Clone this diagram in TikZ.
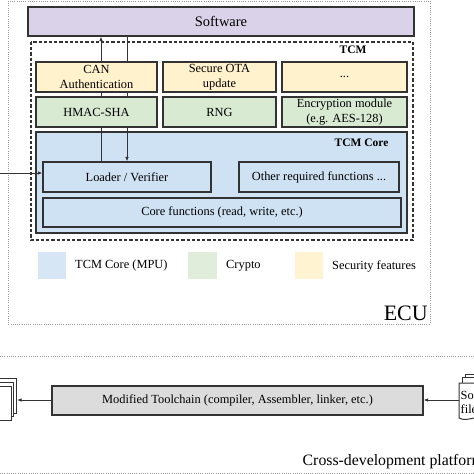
\documentclass[tikz,border=0pt]{standalone}
\usepackage{fontspec}
\setmainfont{Liberation Serif}
\usetikzlibrary{arrows.meta}
\definecolor{cblue}{HTML}{CFE2F3}
\definecolor{cgreen}{HTML}{D9EAD3}
\definecolor{cyellow}{HTML}{FFF2CC}
\definecolor{cpurple}{HTML}{D9D2E9}
\definecolor{cgray}{HTML}{DCDCDC}
\definecolor{edge}{HTML}{333333}
\begin{document}
\begin{tikzpicture}[x=1pt,y=-1pt,
  box/.style={draw=edge, line width=1.1pt, inner sep=1pt, align=center,
    font=\fontsize{12.4}{14.5}\selectfont, text=black},
  lbl/.style={font=\fontsize{12.4}{14.5}\selectfont, inner sep=0pt},
  bold/.style={font=\fontsize{11.5}{13}\selectfont\bfseries, inner sep=0pt},
  conn/.style={draw=edge, line width=1pt, -{Latex[length=4.5pt,width=3.5pt]}},
  plain/.style={draw=edge, line width=1pt},
  dotb/.style={draw=gray!80, line width=0.9pt, dash pattern=on 0.9pt off 1.3pt},
  page/.style={draw=edge, line width=1pt, fill=white}]
\useasboundingbox (0,0) rectangle (474,474);
% ECU frame
\draw[dotb] (8,1) rectangle (430,324);
\node[font=\fontsize{22}{24}\selectfont, anchor=east, inner sep=0pt] (ecu) at (428,313) {ECU};
% Software
\node[box, fill=cpurple, minimum width=386pt, minimum height=29pt, font=\fontsize{14.5}{16}\selectfont] (sw) at (221,21.5) {Software};
% TCM
\draw[draw=edge, line width=1.2pt, dash pattern=on 3.2pt off 2pt] (31,42) rectangle (413,240);
\node[bold] (tcm) at (353,50) {TCM};
% Core
\node[box, fill=cblue, minimum width=371pt, minimum height=101pt] (core) at (221.5,182.5) {};
\node[bold] (tcmcore) at (361.5,143) {TCM Core};
\node[box, fill=cblue, minimum width=168pt, minimum height=30pt] (loader) at (127,177) {Loader / Verifier};
\node[box, fill=cblue, minimum width=160pt, minimum height=30pt] (other) at (319,177) {Other required functions ...};
\node[box, fill=cblue, minimum width=358pt, minimum height=29pt] (corefn) at (222,212.5) {Core functions (read, write, etc.)};
% arrows between software and loader
\draw[conn] (loader.north -| 101,0) -- (sw.south -| 101,0);
\draw[conn] (sw.south -| 127,0) -- (loader.north -| 127,0);
% security features
\node[box, fill=cyellow, minimum width=121pt, minimum height=30pt] (can) at (96.5,77) {CAN\\Authentication};
\node[box, fill=cyellow, minimum width=113pt, minimum height=30pt] (ota) at (219.5,77) {Secure OTA\\update};
\node[box, fill=cyellow, minimum width=125pt, minimum height=30pt] (dots) at (344.5,77) {...};
% crypto
\node[box, fill=cgreen, minimum width=121pt, minimum height=30pt] (hmac) at (96.5,112) {HMAC-SHA};
\node[box, fill=cgreen, minimum width=113pt, minimum height=30pt] (rng) at (219.5,112) {RNG};
\node[box, fill=cgreen, minimum width=125pt, minimum height=30pt] (enc) at (344.5,112) {Encryption module\\(e.g. AES-128)};
% input arrow to loader
\coordinate (lin) at (0,173);
\draw[conn] (lin) -- (lin -| loader.west);
% legend
\fill[cblue!85] (38,252) rectangle (66,279);
\node[lbl, anchor=west] (l1) at (75,266) {TCM Core (MPU)};
\fill[cgreen!85] (188,252) rectangle (217,279);
\node[lbl, anchor=west] (l2) at (226,266) {Crypto};
\fill[cyellow!90] (295,252) rectangle (323,279);
\node[lbl, anchor=west] (l3) at (332,266) {Security features};
% cross-development platform
\draw[dotb] (0,356) -- (474,356);
\draw[dotb] (0,473) -- (474,473);
\node[font=\fontsize{15.8}{18}\selectfont, anchor=base west, inner sep=0pt] (cdp) at (302.5,465) {Cross-development platform};
\node[box, fill=cgray, minimum width=371pt, minimum height=29pt] (tool) at (237.5,400.5) {Modified Toolchain (compiler, Assembler, linker, etc.)};
% output documents (left)
\draw[page] (-4,378) rectangle (16.5,413);
\draw[page] (-7,382) rectangle (13.5,416.5);
\draw[page] (-10,386) rectangle (11,420);
\coordinate (outdoc) at (17,400);
% source files (right)
\draw[page] (465,374) rectangle (500,410);
\draw[page] (462,377.5) rectangle (500,413);
\draw[page] (459,383) -- (459,418) .. controls (468,423) and (478,413) .. (500,417) -- (500,383) -- cycle;
\node[lbl, anchor=west, align=left] (src) at (460.5,402.5) {Source\\files};
\coordinate (srcdoc) at (459,400);
\draw[conn] (srcdoc) -- (srcdoc -| tool.east);
\draw[conn] (tool.west |- outdoc) -- (outdoc);
\end{tikzpicture}
\end{document}
